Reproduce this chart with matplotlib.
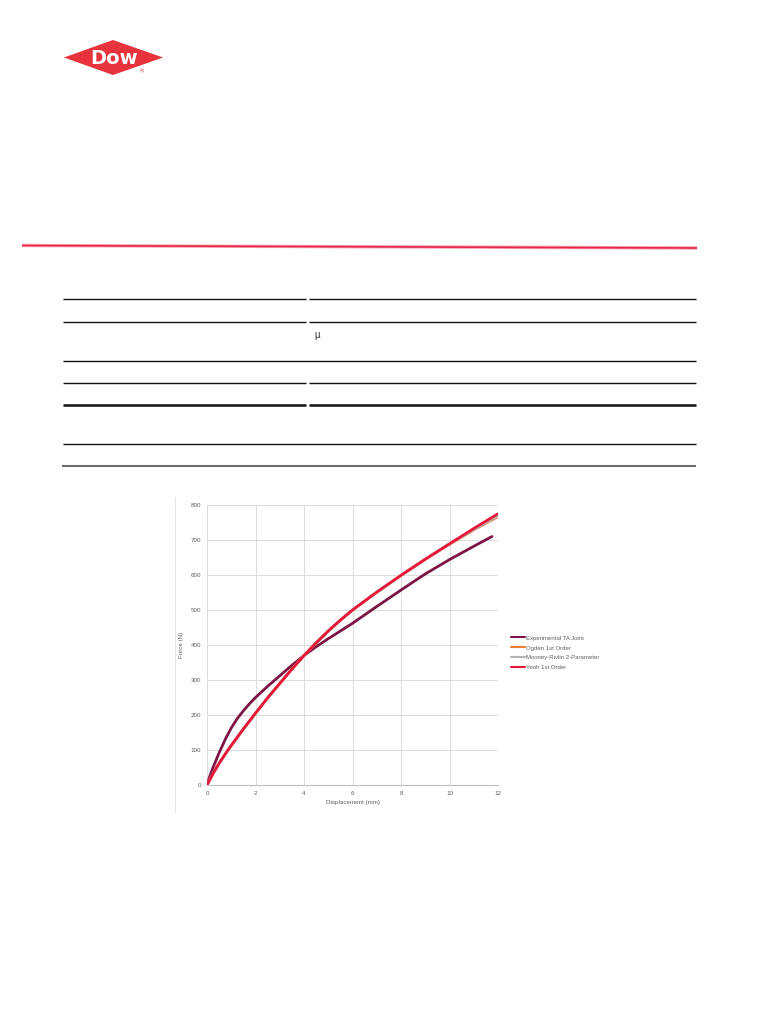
import numpy as np
import matplotlib
matplotlib.use("Agg")
import matplotlib.pyplot as plt
from matplotlib.patches import Polygon

plt.rcParams['font.family'] = ['Liberation Sans', 'DejaVu Sans']

# --- dados ---
desl_exp = [0, 0.1, 0.25, 0.5, 0.75, 1, 1.25, 1.5, 1.75, 2, 2.5, 3, 3.5, 4, 4.5,
            5, 5.5, 6, 7, 8, 9, 10, 11, 11.75]
forca_exp = [0, 22, 50, 92, 130, 163, 190, 212, 232, 250, 282, 312, 342, 370, 395,
             418, 440, 462, 510, 557, 603, 644, 682, 710]

desl_fit = [0, 0.25, 0.5, 0.75, 1, 1.5, 2, 2.5, 3, 3.5, 4, 4.5, 5, 5.5, 6, 7, 8,
            9, 10, 11, 12]
forca_ogden = [0, 33, 62, 88, 113, 160, 205, 249, 290, 331, 370, 406, 440, 471,
               500, 551, 599, 645, 688, 729, 767]
forca_mooney = [0, 33, 62, 88, 113, 160, 205, 249, 290, 331, 370, 406, 440, 471,
                500, 551, 599, 645, 689, 730, 770]
forca_yeoh = [0, 33, 62, 88, 113, 160, 205, 249, 290, 331, 370, 406, 440, 471,
              500, 551, 599, 645, 689, 733, 775]

series = [
    ("Experimental TA Joint", desl_exp, forca_exp, "#7c1445"),
    ("Ogden 1st Order", desl_fit, forca_ogden, "#f08030"),
    ("Mooney-Rivlin 2-Parameter", desl_fit, forca_mooney, "#b5b5b5"),
    ("Yeoh 1st Order", desl_fit, forca_yeoh, "#e8173a"),
]

x_ticks = [0, 2, 4, 6, 8, 10, 12]
y_ticks = [0, 100, 200, 300, 400, 500, 600, 700, 800]

W, H = 768, 1024
fig = plt.figure(figsize=(W / 100, H / 100), dpi=100)

# camada da pagina (logo, linhas da tabela)
pg = fig.add_axes([0, 0, 1, 1])
pg.set_xlim(0, W)
pg.set_ylim(H, 0)
pg.axis("off")

pg.add_patch(Polygon([(64, 57.5), (113, 40), (163, 57.5), (113, 75)],
                     closed=True, color="#e8323c", lw=0))
pg.text(114, 58, "Dow", color="white", fontsize=14, fontweight="bold",
        ha="center", va="center", family="DejaVu Sans")
pg.text(142, 72, "®", color="#e8323c", fontsize=4, ha="center", va="center")

# linha vermelha
pg.plot([22, 697], [245.5, 248], color="#f7a0b0", lw=2.4, solid_capstyle="butt")
pg.plot([22, 697], [245.5, 248], color="#e8284a", lw=1.2, solid_capstyle="butt")

# tabela
for y, lw, dividida in [(299, 1.0, True), (322, 1.0, True), (361, 1.0, False),
                        (383, 1.0, True), (405, 1.8, True), (444, 1.0, False)]:
    if dividida:
        pg.plot([63, 306], [y, y], color="#111111", lw=lw, solid_capstyle="butt")
        pg.plot([309, 696], [y, y], color="#111111", lw=lw, solid_capstyle="butt")
    else:
        pg.plot([63, 696], [y, y], color="#111111", lw=lw, solid_capstyle="butt")
pg.plot([62, 696], [466, 466], color="#6e6e6e", lw=1.5, solid_capstyle="butt")
pg.text(314, 335, "µ", fontsize=7, color="#333333", ha="left", va="center")

# borda da imagem do grafico
pg.plot([174.5, 174.5], [497, 812], color="#e6e6e6", lw=0.8)

# --- grafico ---
ax = fig.add_axes([207 / W, 1 - 785 / H, 291 / W, 280 / H])
for nome, x, y, cor in series:
    ax.plot(x, y, color=cor, lw=2.0, label=nome, solid_capstyle="round",
            solid_joinstyle="round")

ax.set_xlim(0, 12)
ax.set_ylim(0, 800)
ax.set_xticks(x_ticks)
ax.set_yticks(y_ticks)
ax.grid(True, color="#dcdcdc", lw=0.7)
ax.set_axisbelow(True)
for s in ["top", "right", "left"]:
    ax.spines[s].set_visible(False)
ax.spines["bottom"].set_color("#c0c0c0")
ax.spines["bottom"].set_linewidth(0.8)
ax.tick_params(length=0, labelsize=4.5, labelcolor="#606060", pad=4)
ax.set_xlabel("Displacement (mm)", fontsize=4.5, color="#606060", labelpad=3)
ax.set_ylabel("Force (N)", fontsize=4.5, color="#606060", labelpad=5)

leg = ax.legend(loc="upper left", bbox_to_anchor=(1.035, 0.545), frameon=False,
                fontsize=4.3, handlelength=2.3, handletextpad=0.2, labelspacing=0.8,
                borderpad=0, labelcolor="#606060")
for h in leg.get_lines():
    h.set_linewidth(1.5)

fig.savefig("out.png", dpi=100)
